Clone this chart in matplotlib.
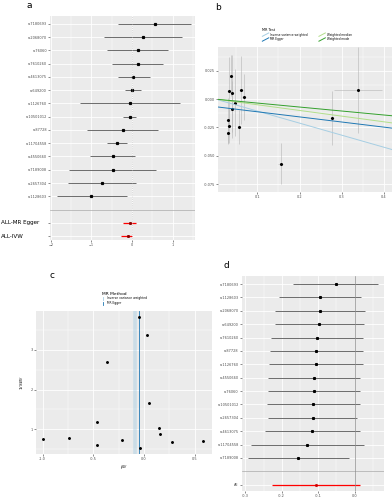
import numpy as np
import matplotlib.pyplot as plt
from matplotlib.lines import Line2D
from matplotlib.legend_handler import HandlerBase
from matplotlib.ticker import MultipleLocator, FixedLocator
from matplotlib.transforms import blended_transform_factory

# ---- panel a: single SNP forest plot
a_snps = ['rs7180693', 'rs2068070', 'rs76060', 'rs7610260', 'rs4613075', 'rs649200', 'rs1126760',
          'rs10501012', 'rs87728', 'rs11704558', 'rs4550660', 'rs7189008', 'rs2657304', 'rs1128603']
a_beta = [0.57, 0.26, 0.14, 0.14, 0.03, 0.01, -0.05, -0.06, -0.22, -0.38, -0.46, -0.48, -0.74, -1.0]
a_lo = [-0.34, -0.69, -0.61, -0.49, -0.35, -0.18, -1.28, -0.22, -1.12, -0.62, -1.03, -1.55, -1.57, -1.86]
a_hi = [1.46, 1.23, 0.88, 0.77, 0.44, 0.23, 1.18, 0.10, 0.65, -0.13, 0.07, 0.59, 0.09, -0.13]
a_sum_labels = ['ALL-MR Egger', 'ALL-IVW']
a_sum_beta = [-0.06, -0.11]
a_sum_lo = [-0.22, -0.27]
a_sum_hi = [0.10, 0.0]

# ---- panel b: scatter plot
b_x = [0.038, 0.032, 0.039, 0.060, 0.068, 0.046, 0.040, 0.029, 0.032, 0.057, 0.031, 0.277, 0.339, 0.155]
b_y = [0.0206, 0.0073, 0.005, 0.008, 0.0018, -0.003, -0.009, -0.0186, -0.024, -0.025, -0.030, -0.0165, 0.0077, -0.057]
b_xse = [0.004, 0.004, 0.004, 0.005, 0.005, 0.004, 0.004, 0.004, 0.004, 0.005, 0.004, 0.005, 0.057, 0.006]
b_yse = [0.018, 0.030, 0.034, 0.030, 0.020, 0.030, 0.025, 0.020, 0.015, 0.015, 0.010, 0.024, 0.038, 0.018]
b_methods = ['Inverse variance weighted', 'MR Egger', 'Weighted median', 'Weighted mode']
b_slope = [-0.106, -0.045, -0.050, -0.035]
b_icept = [0.0, -0.0067, 0.0, 0.0]
b_colors = ['#a6cee3', '#1f78b4', '#b2df8a', '#33a02c']

# ---- panel c: funnel plot
c_beta = [-1.0, -0.737, -0.467, -0.461, -0.368, -0.220, -0.052, -0.042, 0.030, 0.046, 0.151, 0.155, 0.273, 0.585]
c_prec = [0.76, 0.79, 0.61, 1.18, 2.70, 0.73, 3.82, 0.54, 3.38, 1.67, 1.03, 0.89, 0.68, 0.71]
c_methods = ['Inverse variance weighted', 'MR Egger']
c_est = [-0.086, -0.046]
c_colors = ['#a6cee3', '#1f78b4']

# ---- panel d: leave-one-out
d_snps = ['rs7180693', 'rs1128603', 'rs2068070', 'rs649200', 'rs7610260', 'rs87728', 'rs1126760',
          'rs4550660', 'rs76060', 'rs10501012', 'rs2657304', 'rs4613075', 'rs11704558', 'rs7189008']
d_beta = [-0.052, -0.094, -0.095, -0.098, -0.102, -0.106, -0.107, -0.111, -0.112, -0.113, -0.115, -0.118, -0.131, -0.154]
d_lo = [-0.170, -0.207, -0.218, -0.218, -0.229, -0.232, -0.234, -0.238, -0.238, -0.240, -0.238, -0.247, -0.284, -0.293]
d_hi = [0.064, 0.018, 0.029, 0.025, 0.023, 0.022, 0.024, 0.015, 0.015, 0.015, 0.006, 0.015, 0.025, -0.015]
d_all_beta, d_all_lo, d_all_hi = -0.106, -0.227, 0.015

TXT = '#4D4D4D'


def gg(ax):
    # ggplot2-like grey panel
    ax.set_facecolor('#EBEBEB')
    for s in ax.spines.values():
        s.set_visible(False)
    ax.grid(True, which='major', color='white', lw=0.6)
    ax.grid(True, which='minor', color='white', lw=0.3)
    ax.set_axisbelow(True)
    ax.tick_params(which='major', length=1.2, width=0.4, color='#333333',
                   labelsize=2.5, labelcolor=TXT, pad=1)
    ax.tick_params(which='minor', length=0)


class DiagHandler(HandlerBase):
    def create_artists(self, legend, orig, xd, yd, w, h, fs, trans):
        return [Line2D([-xd, -xd + w], [-yd, -yd + h], color=orig.get_color(),
                       lw=orig.get_linewidth(), transform=trans)]


class VertHandler(HandlerBase):
    def create_artists(self, legend, orig, xd, yd, w, h, fs, trans):
        x = -xd + w / 2
        return [Line2D([x, x], [-yd, -yd + h], color=orig.get_color(),
                       lw=orig.get_linewidth(), transform=trans)]


fig = plt.figure(figsize=(3.92, 5.0), dpi=100)

# ================= a
ax = fig.add_axes([0.1276, 0.52, 0.370, 0.448])
gg(ax)
ya = np.arange(len(a_snps))
ysum = np.array([15, 16])
ax.hlines(ya, a_lo, a_hi, color='#333333', lw=0.5)
ax.plot(a_beta, ya, 's', color='black', ms=1.3)
ax.hlines(ysum, a_sum_lo, a_sum_hi, color='red', lw=0.9)
ax.plot(a_sum_beta, ysum, 's', color='#8b0000', ms=1.1)
ax.axhline(14, color='#AAAAAA', lw=0.5)
ax.axvline(0, color='#BBBBBB', lw=0.5, ls=':')
ax.set_xlim(-2.02, 1.55)
ax.set_ylim(16.3, -0.6)
ax.xaxis.set_major_locator(FixedLocator([-2, -1, 0, 1]))
ax.xaxis.set_minor_locator(FixedLocator([-1.5, -0.5, 0.5, 1.5]))
ax.set_yticks(list(ya) + list(ysum))
ax.set_yticklabels(a_snps + ['', ''])
tr = blended_transform_factory(fig.transFigure, ax.transData)
for lab, yy in zip(a_sum_labels, ysum):
    ax.text(1 / 392, yy, lab, transform=tr, ha='left', va='center', fontsize=4.1, color='black')

# ================= b
ax = fig.add_axes([0.556, 0.616, 0.444, 0.29])
gg(ax)
ax.errorbar(b_x, b_y, xerr=b_xse, yerr=b_yse, fmt='none', ecolor='#B5B5B5', elinewidth=0.4)
ax.plot(b_x, b_y, 'o', color='black', ms=1.2)
xx = np.array([0.0, 0.45])
handles = []
for m, s, b0, c in zip(b_methods, b_slope, b_icept, b_colors):
    ln, = ax.plot(xx, b0 + s * xx, color=c, lw=0.7, label=m)
    handles.append(ln)
ax.set_xlim(0.006, 0.42)
ax.set_ylim(-0.082, 0.046)
ax.xaxis.set_major_locator(FixedLocator([0.1, 0.2, 0.3, 0.4]))
ax.xaxis.set_minor_locator(FixedLocator([0.05, 0.15, 0.25, 0.35]))
ax.yaxis.set_major_locator(FixedLocator([-0.075, -0.05, -0.025, 0.0, 0.025]))
ax.yaxis.set_minor_locator(MultipleLocator(0.0125))
ax.set_xticklabels(['0.1', '0.2', '0.3', '0.4'])
ax.set_yticklabels(['-0.075', '-0.050', '-0.025', '0.000', '0.025'])
leg = ax.legend(handles=handles, ncol=2, loc='lower left', bbox_to_anchor=(0.24, 1.02),
                frameon=False, fontsize=2.1, title='MR Test', title_fontsize=2.4,
                handler_map={Line2D: DiagHandler()}, handlelength=2.2, handleheight=1.4,
                columnspacing=3.8, labelspacing=0.3, handletextpad=0.5)
leg._legend_box.align = 'left'

# ================= c
ax = fig.add_axes([0.091, 0.092, 0.449, 0.286])
gg(ax)
handles = []
for m, e, c, w, al in zip(c_methods, c_est, c_colors, [2.6, 0.6], [0.45, 1.0]):
    ln = ax.axvline(e, color=c, lw=w, alpha=al, label=m)
    handles.append(ln)
ax.plot(c_beta, c_prec, 'o', color='black', ms=1.1)
ax.set_xlim(-1.07, 0.668)
ax.set_ylim(0.378, 3.98)
ax.xaxis.set_major_locator(FixedLocator([-1.0, -0.5, 0.0, 0.5]))
ax.xaxis.set_minor_locator(FixedLocator([-0.75, -0.25, 0.25]))
ax.yaxis.set_major_locator(FixedLocator([1, 2, 3]))
ax.yaxis.set_minor_locator(FixedLocator([0.5, 1.5, 2.5, 3.5]))
ax.set_xticklabels(['-1.0', '-0.5', '0.0', '0.5'])
ax.set_xlabel(r'$\beta_{IV}$', fontsize=3.2, color='black', labelpad=1.5)
ax.set_ylabel(r'$1/SE_{IV}$', fontsize=3.2, color='black', labelpad=3)
leg = ax.legend(handles=[Line2D([], [], color=c, lw=0.6) for c in c_colors], labels=c_methods,
                loc='lower left', bbox_to_anchor=(0.36, 1.02), frameon=False, fontsize=2.2,
                title='MR Method', title_fontsize=3.2, handler_map={Line2D: VertHandler()},
                handlelength=1.0, handleheight=1.5, labelspacing=0.3, handletextpad=0.8)
leg._legend_box.align = 'left'

# ================= d
ax = fig.add_axes([0.6166, 0.018, 0.364, 0.43])
gg(ax)
yd = np.arange(len(d_snps))
ax.hlines(yd, d_lo, d_hi, color='#333333', lw=0.5)
ax.plot(d_beta, yd, 's', color='black', ms=1.2)
ax.hlines([15], [d_all_lo], [d_all_hi], color='red', lw=0.9)
ax.plot([d_all_beta], [15], 's', color='#cc0000', ms=1.0)
ax.axhline(14, color='#AAAAAA', lw=0.5)
ax.axvline(0, color='#8A8A8A', lw=0.5)
ax.set_xlim(-0.31, 0.082)
ax.set_ylim(15.47, -0.6)
ax.xaxis.set_major_locator(FixedLocator([-0.3, -0.2, -0.1, 0.0]))
ax.xaxis.set_minor_locator(FixedLocator([-0.25, -0.15, -0.05, 0.05]))
ax.set_xticklabels(['-0.3', '-0.2', '-0.1', '0.0'])
ax.set_yticks(list(yd) + [15])
ax.set_yticklabels(d_snps + ['All'])

# panel letters
for lab, x, y in [('a', 29, 6), ('b', 218, 8), ('c', 52, 276), ('d', 226, 265)]:
    fig.text(x / 392, 1 - y / 500, lab, fontsize=6.5, ha='center', va='center')

fig.savefig('out.png', dpi=100)
